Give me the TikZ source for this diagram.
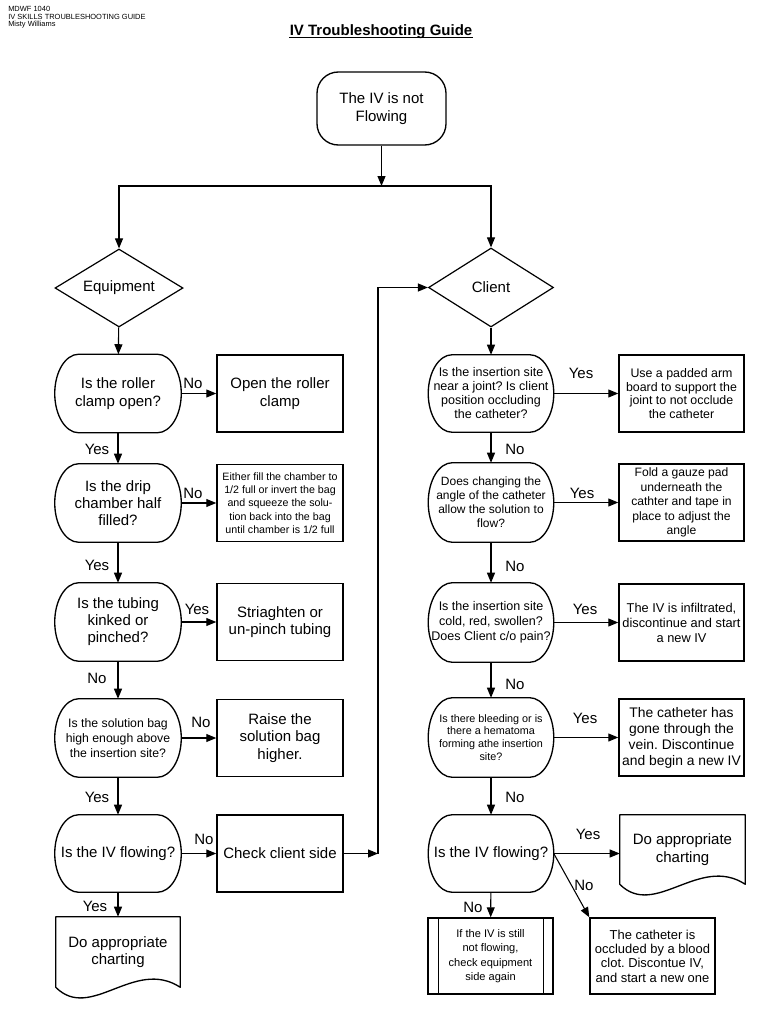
\documentclass[tikz,border=0pt]{standalone}
\usepackage{fontspec}
\setmainfont{Liberation Sans}
\usetikzlibrary{arrows.meta,shapes.geometric,calc}
\frenchspacing
\newcommand\fsz[2]{\fontsize{#1}{#2}\selectfont}
\newcommand\stadiumoutline[1]{%
\draw[stad] let \p1=(#1.north west), \p2=(#1.south east), \p3=(#1.center) in
 (\x1+18pt,\y1) -- (\x2-18pt,\y1)
 .. controls (\x2-8.06pt,\y1) and (\x2,{\y3+0.552*(\y1-\y3)}) .. (\x2,\y3)
 .. controls (\x2,{\y3-0.552*(\y1-\y3)}) and (\x2-8.06pt,\y2) .. (\x2-18pt,\y2)
 -- (\x1+18pt,\y2)
 .. controls (\x1+8.06pt,\y2) and (\x1,{\y3-0.552*(\y1-\y3)}) .. (\x1,\y3)
 .. controls (\x1,{\y3+0.552*(\y1-\y3)}) and (\x1+8.06pt,\y1) .. (\x1+18pt,\y1) -- cycle;}
\newcommand\docoutline[1]{%
\draw[stad] (#1.south west) -- (#1.north west) -- (#1.north east) -- (#1.south east)
 .. controls ($(#1.south east)+(-46,-30)$) and ($(#1.south west)+(35,35)$) .. (#1.south west) -- cycle;}
\begin{document}
\begin{tikzpicture}[x=0.75pt,y=-0.75pt,
  every node/.style={inner sep=0pt, align=center, text=black},
  dec/.style={minimum width=94.5pt, minimum height=58.5pt, font=\fsz{11.25pt}{13pt}},
  rdec/.style={minimum width=93.75pt, minimum height=58.5pt},
  box/.style={draw, line width=1.1pt, minimum width=94.5pt, minimum height=57.75pt},
  rbox/.style={draw, line width=1.1pt, minimum width=93.75pt, minimum height=57.75pt},
  diam/.style={draw, diamond, line width=0.9pt, shape aspect=1.6, font=\fsz{11.25pt}{13pt}},
  lbl/.style={font=\fsz{11.25pt}{13pt}},
  arr/.style={line width=0.8pt, -{Triangle[length=7.5pt,width=6pt]}},
  ln/.style={line width=0.8pt},
  stad/.style={line width=1pt, line join=round}]
\useasboundingbox (0,0) rectangle (768,1024);

% header
\node[anchor=base west, font=\fsz{5.6pt}{5.6pt}] (h1) at (8,12) {MDWF 1040};
\node[anchor=base west, font=\fsz{5.6pt}{5.6pt}] (h2) at (8,19.5) {IV SKILLS TROUBLESHOOTING GUIDE};
\node[anchor=base west, font=\fsz{5.6pt}{5.6pt}] (h3) at (8,27) {Misty Williams};
\node[anchor=base, font=\fsz{11.25pt}{13pt}\bfseries] (title) at (381,36) {IV Troubleshooting Guide};
\draw[line width=0.9pt] ($(title.base west)+(0,1.8)$) -- ($(title.base east)+(0,1.8)$);

% top
\node[draw, line width=1pt, rounded corners=16pt, minimum width=96.75pt, minimum height=54.75pt,
      font=\fsz{11.25pt}{14pt}] (start) at (381.5,108.5) {The IV is not\\Flowing};
\coordinate (split) at (381.5,186);
\node[diam, minimum width=96pt, minimum height=58.5pt] (equip) at (119,288) {Equipment};
\node[diam, minimum width=93.75pt, minimum height=59.25pt] (client) at (491,287.5) {Client};
\draw[arr] (start) -- (split);
\draw[arr] (split) -| (equip);
\draw[arr] (split) -| (client);

% left column decisions
\node[dec] (roller) at (118,393.5) {Is the roller\\clamp open?};
\node[dec, font=\fsz{11.25pt}{12.5pt}] (drip) at (118,503) {Is the drip\\chamber half\\filled?};
\node[dec, font=\fsz{11.25pt}{12.75pt}] (tubing) at (118,622) {Is the tubing\\kinked or\\pinched?};
\node[dec, font=\fsz{9.2pt}{11pt}] (solbag) at (118,738) {Is the solution bag\\high enough above\\the insertion site?};
\node[dec, minimum height=57.75pt] (lflow) at (118,853.5) {Is the IV flowing?};
\foreach \q in {roller,drip,tubing,solbag,lflow} {\stadiumoutline{\q}}

% left column boxes
\node[box, font=\fsz{11.25pt}{13.25pt}] (openrc) at (280,393.5) {Open the roller\\clamp};
\node[box, font=\fsz{8pt}{10pt}] (fill) at (280,503) {Either fill the chamber to\\1/2 full or invert the bag\\and squeeze the solu-\\tion back into the bag\\until chamber is 1/2 full};
\node[box, font=\fsz{11.25pt}{13pt}] (straight) at (280,622) {Striaghten or\\un-pinch tubing};
\node[box, font=\fsz{11.25pt}{13pt}] (raise) at (280,738) {Raise the\\solution bag\\higher.};
\node[box, font=\fsz{11.25pt}{13pt}] (check) at (280,853.5) {Check client side};
\node[minimum width=93pt, minimum height=52.5pt, font=\fsz{11.25pt}{13pt}] (ldoc) at (118,952) {Do appropriate\\charting};
\docoutline{ldoc}

% left connectors
\draw[arr] (equip) -- (roller);
\draw[arr] (roller) -- (drip);
\draw[arr] (drip) -- (tubing);
\draw[arr] (tubing) -- (solbag);
\draw[arr] (solbag) -- (lflow);
\draw[arr] (lflow) -- (ldoc);
\draw[arr] (roller) -- (openrc);
\draw[arr] (drip) -- (fill);
\draw[arr] (tubing) -- (straight);
\draw[arr] (solbag) -- (raise);
\draw[arr] (lflow) -- (check);
\coordinate (ret) at (378,853.5);
\draw[arr] (check) -- (ret);
\draw[arr] (ret) |- (client);

% left labels
\node[lbl] (la1) at (193,383) {No};
\node[lbl] (la2) at (97,449) {Yes};
\node[lbl] (la3) at (193,493) {No};
\node[lbl] (la4) at (97,565) {Yes};
\node[lbl] (la5) at (197,609) {Yes};
\node[lbl] (la6) at (97,678) {No};
\node[lbl] (la7) at (201,722) {No};
\node[lbl] (la8) at (97,797) {Yes};
\node[lbl] (la9) at (204,839) {No};
\node[lbl] (la10) at (95,906) {Yes};

% right column decisions
\node[rdec, font=\fsz{9.4pt}{10.5pt}, minimum height=57.75pt] (joint) at (491,393.5) {Is the insertion site\\near a joint? Is client\\position occluding\\the catheter?};
\node[rdec, font=\fsz{9pt}{10.6pt}, minimum height=59.25pt] (angle) at (491,502.5) {Does changing the\\angle of the catheter\\allow the solution to\\flow?};
\node[rdec, font=\fsz{9.4pt}{11.25pt}, minimum height=59.25pt] (cold) at (491,622.5) {Is the insertion site\\cold, red, swollen?\\Does Client c/o pain?};
\node[rdec, font=\fsz{8.1pt}{9.6pt}, minimum height=59.25pt] (bleed) at (491,737.5) {Is there bleeding or is\\there a hematoma\\forming athe insertion\\site?};
\node[rdec, font=\fsz{11.25pt}{13pt}, minimum height=57.75pt] (rflow) at (491,853.5) {Is the IV flowing?};
\foreach \q in {joint,angle,cold,bleed,rflow} {\stadiumoutline{\q}}

% right column boxes
\node[rbox, font=\fsz{9.3pt}{10.4pt}] (pad) at (681.5,393.5) {Use a padded arm\\board to support the\\joint to not occlude\\the catheter};
\node[rbox, font=\fsz{9.1pt}{10.8pt}] (fold) at (681.5,502.5) {Fold a gauze pad\\underneath the\\cathter and tape in\\place to adjust the\\angle};
\node[rbox, font=\fsz{9.6pt}{11.25pt}] (infil) at (681.5,622.5) {The IV is infiltrated,\\discontinue and start\\a new IV};
\node[rbox, font=\fsz{10.4pt}{12pt}] (through) at (681.5,737.5) {The catheter has\\gone through the\\vein. Discontinue\\and begin a new IV};
\node[minimum width=93.75pt, minimum height=51.75pt, font=\fsz{11.25pt}{13pt}] (rdoc) at (682.5,849.5) {Do appropriate\\charting};
\docoutline{rdoc}
\node[rbox, minimum height=57pt, font=\fsz{8.3pt}{10.8pt}] (still) at (490.5,956) {If the IV is still\\not flowing,\\check equipment\\side again};
\draw[line width=1.1pt] ($(still.north west)+(11,0)$) -- ($(still.south west)+(11,0)$);
\draw[line width=1.1pt] ($(still.north east)+(-10,0)$) -- ($(still.south east)+(-10,0)$);
\node[rbox, minimum height=57pt, font=\fsz{9.7pt}{10.8pt}] (occl) at (652.5,956) {The catheter is\\occluded by a blood\\clot. Discontue IV,\\and start a new one};

% right connectors
\draw[arr] (client) -- (joint);
\draw[arr] (joint) -- (angle);
\draw[arr] (angle) -- (cold);
\draw[arr] (cold) -- (bleed);
\draw[arr] (bleed) -- (rflow);
\draw[arr] (rflow) -- (still);
\draw[arr] (joint) -- (pad);
\draw[arr] (angle) -- (fold);
\draw[arr] (cold) -- (infil);
\draw[arr] (bleed) -- (through);
\draw[arr] (rflow.east) -- (rflow.east -| rdoc.west);
\draw[arr] (rflow.east) -- (occl.north west);

% right labels
\node[lbl] (ra1) at (581,373) {Yes};
\node[lbl] (ra2) at (515,449) {No};
\node[lbl] (ra3) at (582,493) {Yes};
\node[lbl] (ra4) at (515,566) {No};
\node[lbl] (ra5) at (585,609) {Yes};
\node[lbl] (ra6) at (515,684) {No};
\node[lbl] (ra7) at (585,718) {Yes};
\node[lbl] (ra8) at (515,797) {No};
\node[lbl] (ra9) at (588,834) {Yes};
\node[lbl] (ra10) at (584,885) {No};
\node[lbl] (ra11) at (473,907) {No};
\end{tikzpicture}
\end{document}
